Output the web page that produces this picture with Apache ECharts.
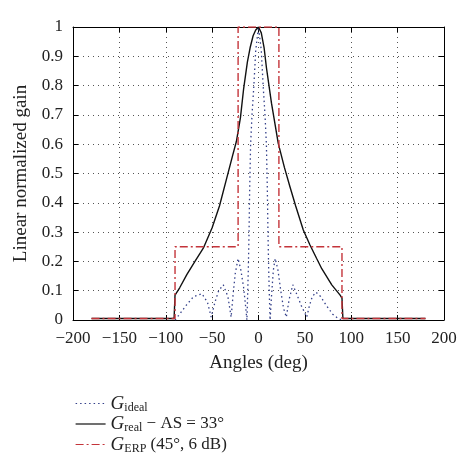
<!DOCTYPE html>
<html style="height: 100%">
<head>
    <meta charset="utf-8">
    <script src="https://cdn.jsdelivr.net/npm/echarts@6/dist/echarts.min.js"></script>
</head>
<body style="height: 100%; margin: 0; background: #fff">
<div id="container" style="width: 474px; height: 474px"></div>
<script type="text/javascript">
    // values
    var idealAngles = [-90, -85, -78, -70, -61, -55, -51, -47, -43, -38, -33, -29.5, -27, -25, -22, -19, -16, -14, -12.5,
        -12, -11, -10.2, -9.5, -8.5, -7, -5, -3, 0, 3, 5, 7, 8.5, 9.5, 10.2, 11, 12,
        12.5, 14, 16, 18, 21, 24, 27, 30, 33, 37, 41, 46, 52, 55, 58, 62, 67, 73, 80, 86, 90];
    var idealGain = [0, 0.02, 0.05, 0.08, 0.09, 0.06, 0.01, 0.06, 0.10, 0.12, 0.08, 0.01, 0.10, 0.16, 0.21, 0.17, 0.11, 0.05, 0,
        0.05, 0.17, 0.30, 0.45, 0.60, 0.70, 0.80, 0.92, 1, 0.92, 0.80, 0.70, 0.60, 0.45, 0.30, 0.17, 0.05,
        0, 0.08, 0.17, 0.21, 0.17, 0.10, 0.04, 0.01, 0.07, 0.12, 0.09, 0.05, 0.01, 0.05, 0.08, 0.095, 0.08, 0.05, 0.02, 0.005, 0];

    var realAngles = [-180, -91, -90, -85, -77.3, -68.5, -59.5, -50, -42, -34.6, -28, -23.8, -19.5, -16, -12, -9, -5.8, -3, 0,
        3, 6, 8.6, 14, 21.3, 28, 33.9, 40, 48.3, 55.5, 62.7, 68.2, 79, 88, 90, 91, 180];
    var realGain = [0.005, 0.005, 0.085, 0.11, 0.155, 0.20, 0.245, 0.315, 0.39, 0.48, 0.56, 0.61, 0.69, 0.79, 0.88, 0.93, 0.97, 0.99, 1,
        0.98, 0.93, 0.86, 0.74, 0.603, 0.52, 0.455, 0.39, 0.307, 0.256, 0.21, 0.175, 0.12, 0.085, 0.075, 0.005, 0.005];

    var erpAngles = [-180, -90, -90, -22, -22, 22, 22, 90, 90, 180];
    var erpGain = [0.005, 0.005, 0.25, 0.25, 1, 1, 0.25, 0.25, 0.005, 0.005];

    function pairs(a, b) {
        var out = [];
        for (var i = 0; i < a.length; i++) out.push([a[i], b[i]]);
        return out;
    }

    var serif = '"Liberation Serif", "DejaVu Serif", serif';
    var dom = document.getElementById("container");
    var myChart = echarts.init(dom);

    var gridDots = {show: true, lineStyle: {color: '#555', width: 1, type: [1, 4]}};
    function axisBase() {
        return {
            type: 'value',
            axisLine: {show: true, onZero: false, lineStyle: {color: '#000', width: 1}},
            axisTick: {show: true, inside: true, length: 5, lineStyle: {color: '#000'}}
        };
    }

    var option = {
        animation: false,
        grid: {left: 73, right: 30, top: 27, bottom: 154},
        xAxis: [
            Object.assign(axisBase(), {
                min: -200, max: 200, interval: 50,
                position: 'bottom',
                name: 'Angles (deg)',
                nameLocation: 'middle',
                nameGap: 34,
                nameTextStyle: {fontFamily: serif, fontSize: 19, color: '#222'},
                axisLabel: {
                    fontFamily: serif, fontSize: 17, color: '#222', margin: 10,
                    formatter: function (v) { return String(v).replace('-', '\u2212'); }
                },
                splitLine: gridDots
            }),
            Object.assign(axisBase(), {
                min: -200, max: 200, interval: 50,
                position: 'top',
                axisLabel: {show: false},
                splitLine: {show: false}
            })
        ],
        yAxis: [
            Object.assign(axisBase(), {
                min: 0, max: 1, interval: 0.1,
                position: 'left',
                name: 'Linear normalized gain',
                nameLocation: 'middle',
                nameGap: 36,
                nameTextStyle: {fontFamily: serif, fontSize: 19, color: '#222'},
                axisLabel: {fontFamily: serif, fontSize: 17, color: '#222', margin: 10},
                splitLine: gridDots
            }),
            Object.assign(axisBase(), {
                min: 0, max: 1, interval: 0.1,
                position: 'right',
                axisLabel: {show: false},
                splitLine: {show: false}
            })
        ],
        legend: {
            show: true,
            orient: 'vertical',
            left: 70,
            top: 389,
            itemWidth: 30,
            itemHeight: 12,
            itemGap: 1,
            itemStyle: {opacity: 0},
            lineStyle: {width: 1.2},
            data: ['ideal', 'real', 'erp'],
            textStyle: {
                fontFamily: serif, fontSize: 17, color: '#222',
                rich: {
                    g: {fontFamily: serif, fontStyle: 'italic', fontSize: 19, color: '#222'},
                    s: {fontFamily: serif, fontSize: 12, color: '#222', padding: [8, 0, 0, 0]},
                    t: {fontFamily: serif, fontSize: 17, color: '#222'}
                }
            },
            formatter: function (name) {
                if (name === 'ideal') return '{g|G}{s|ideal}';
                if (name === 'real') return '{g|G}{s|real}{t| \u2212 AS = 33\u00b0}';
                return '{g|G}{s|ERP}{t| (45\u00b0, 6 dB)}';
            }
        },
        series: [
            {
                name: 'ideal',
                type: 'line',
                data: pairs(idealAngles, idealGain),
                showSymbol: false,
                symbol: 'none',
                lineStyle: {color: '#34408a', width: 1.3, type: [1.5, 3]},
                itemStyle: {color: '#34408a'},
                z: 3
            },
            {
                name: 'real',
                type: 'line',
                data: pairs(realAngles, realGain),
                showSymbol: false,
                symbol: 'none',
                lineStyle: {color: '#111', width: 1.4},
                itemStyle: {color: '#111'},
                z: 4
            },
            {
                name: 'erp',
                type: 'line',
                data: pairs(erpAngles, erpGain),
                showSymbol: false,
                symbol: 'none',
                lineStyle: {color: '#c4343a', width: 1.4, type: [8, 3, 2, 3]},
                itemStyle: {color: '#c4343a'},
                z: 5
            }
        ]
    };

    if (option && typeof option === "object") {
        myChart.setOption(option, true);
    }
</script>
</body>
</html>
